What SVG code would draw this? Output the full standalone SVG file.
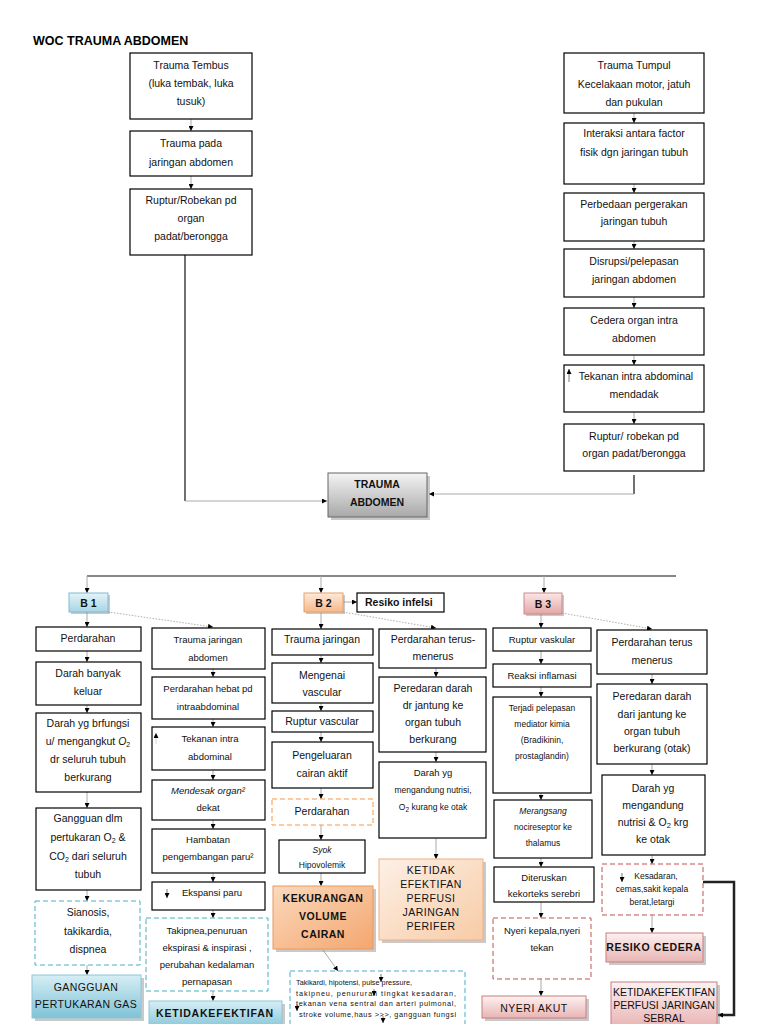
<svg xmlns="http://www.w3.org/2000/svg" width="768" height="1024" viewBox="0 0 768 1024">
<defs>
<marker id="ah" viewBox="0 0 6 6" refX="6" refY="3" markerWidth="5" markerHeight="5" orient="auto" markerUnits="userSpaceOnUse"><path d="M0,0 L6,3 L0,6 z" fill="#000"/></marker>
<linearGradient id="gGray" x1="0" y1="0" x2="0" y2="1"><stop offset="0" stop-color="#f4f4f4"/><stop offset="1" stop-color="#a8a8a8"/></linearGradient>
<linearGradient id="gBlue" x1="0" y1="0" x2="0" y2="1"><stop offset="0" stop-color="#e4f3f8"/><stop offset="1" stop-color="#a6d5e5"/></linearGradient>
<linearGradient id="gOr" x1="0" y1="0" x2="0" y2="1"><stop offset="0" stop-color="#fdeadb"/><stop offset="1" stop-color="#f6b888"/></linearGradient>
<linearGradient id="gPk" x1="0" y1="0" x2="0" y2="1"><stop offset="0" stop-color="#fbe6e6"/><stop offset="1" stop-color="#e4a7a7"/></linearGradient>
<linearGradient id="gTeal" x1="0" y1="0" x2="0" y2="1"><stop offset="0" stop-color="#d6eef5"/><stop offset="1" stop-color="#7fc2d6"/></linearGradient>
<linearGradient id="gKek" x1="0" y1="0" x2="1" y2="1"><stop offset="0" stop-color="#fbd9bc"/><stop offset="1" stop-color="#f4a66f"/></linearGradient>
<linearGradient id="gPer" x1="0" y1="0" x2="1" y2="1"><stop offset="0" stop-color="#fdf0e6"/><stop offset="1" stop-color="#f8cba6"/></linearGradient>
<linearGradient id="gPk2" x1="0" y1="0" x2="0" y2="1"><stop offset="0" stop-color="#fdf1f1"/><stop offset="1" stop-color="#e9b4b4"/></linearGradient>
</defs>
<style>
.bx{fill:#fff;stroke:#000;stroke-width:1.2}
.db{fill:#fff;stroke:#4bacc6;stroke-width:1;stroke-dasharray:5 3}
.do{fill:#fff;stroke:#f79646;stroke-width:1;stroke-dasharray:5 3}
.dp{fill:#fff;stroke:#c0504d;stroke-width:1;stroke-dasharray:5 3}
.sh{fill:#777;opacity:.4}
.t{font-family:"Liberation Sans",Arial,sans-serif;font-size:10.5px;text-anchor:middle;fill:#111}
.s{font-size:9.5px}
.xs{font-size:8.5px}
.b{font-weight:bold}
.c{stroke:#aaa;stroke-width:1;fill:none;marker-end:url(#ah)}
.k{stroke:#111;stroke-width:1.2;fill:none}
.dt{stroke:#999;stroke-width:0.8;stroke-dasharray:1.5 1.5;fill:none;marker-end:url(#ah)}
.ar{stroke:#555;stroke-width:0.8;fill:none;marker-end:url(#ah)}
</style>

<text x="33" y="45" font-family="Liberation Sans, Arial, sans-serif" font-size="12.5" font-weight="bold" fill="#000">WOC TRAUMA ABDOMEN</text>

<g id="connectors">
<line class="c" x1="191" y1="119" x2="191" y2="131"/>
<line class="c" x1="191" y1="176" x2="191" y2="189"/>
<line class="k" x1="185" y1="255" x2="185" y2="501"/>
<line class="c" x1="185" y1="501" x2="327" y2="501"/>
<line class="c" x1="634" y1="113" x2="634" y2="123"/>
<line class="c" x1="634" y1="184" x2="634" y2="193"/>
<line class="c" x1="634" y1="241" x2="634" y2="249"/>
<line class="c" x1="634" y1="297" x2="634" y2="308"/>
<line class="c" x1="634" y1="355" x2="634" y2="365"/>
<line class="c" x1="634" y1="412" x2="634" y2="424"/>
<line class="k" x1="634" y1="475" x2="634" y2="494"/>
<line class="c" x1="634" y1="494" x2="429" y2="494"/>
<line class="k" x1="87" y1="576" x2="676" y2="576"/>
<line class="c" x1="87" y1="576" x2="87" y2="593"/>
<line class="c" x1="321" y1="576" x2="321" y2="593"/>
<line class="c" x1="544" y1="576" x2="544" y2="593"/>
<line class="c" x1="343" y1="602" x2="357" y2="602"/>
<line class="dt" x1="108" y1="612" x2="213" y2="627"/>
<line class="dt" x1="343" y1="612" x2="436" y2="628"/>
<line class="dt" x1="562" y1="613" x2="652" y2="629"/>
<line class="c" x1="87" y1="612" x2="87" y2="627"/>
<line class="c" x1="87" y1="651" x2="87" y2="662"/>
<line class="c" x1="87" y1="705" x2="87" y2="713"/>
<line class="c" x1="87" y1="792" x2="87" y2="808"/>
<line class="c" x1="87" y1="890" x2="87" y2="901"/>
<line class="c" x1="87" y1="965" x2="87" y2="975"/>
<line class="c" x1="213" y1="669" x2="213" y2="677"/>
<line class="c" x1="213" y1="719" x2="213" y2="727"/>
<line class="c" x1="213" y1="770" x2="213" y2="780"/>
<line class="c" x1="213" y1="820" x2="213" y2="829"/>
<line class="c" x1="213" y1="873" x2="213" y2="882"/>
<line class="c" x1="213" y1="910" x2="213" y2="918"/>
<line class="c" x1="213" y1="991" x2="213" y2="1001"/>
<line class="c" x1="321" y1="613" x2="321" y2="629"/>
<line class="c" x1="321" y1="655" x2="321" y2="663"/>
<line class="c" x1="321" y1="703" x2="321" y2="711"/>
<line class="c" x1="321" y1="732" x2="321" y2="742"/>
<line class="c" x1="321" y1="788" x2="321" y2="799"/>
<line class="c" x1="321" y1="825" x2="321" y2="840"/>
<line class="c" x1="321" y1="873" x2="321" y2="886"/>
<line class="c" x1="323" y1="950" x2="338" y2="971"/>
<line class="c" x1="436" y1="668" x2="436" y2="677"/>
<line class="c" x1="436" y1="752" x2="436" y2="762"/>
<line class="c" x1="436" y1="838" x2="436" y2="859"/>
<line class="c" x1="541" y1="614" x2="541" y2="628"/>
<line class="c" x1="541" y1="651" x2="541" y2="664"/>
<line class="c" x1="541" y1="687" x2="541" y2="697"/>
<line class="c" x1="541" y1="793" x2="541" y2="800"/>
<line class="c" x1="541" y1="858" x2="541" y2="867"/>
<line class="c" x1="541" y1="902" x2="541" y2="918"/>
<line class="c" x1="541" y1="979" x2="541" y2="996"/>
<line class="c" x1="652" y1="674" x2="652" y2="684"/>
<line class="c" x1="652" y1="764" x2="652" y2="775"/>
<line class="c" x1="652" y1="855" x2="652" y2="864"/>
<line class="c" x1="652" y1="915" x2="652" y2="933"/>
<path d="M703,882 H734 V1015 H718" stroke="#222" stroke-width="2.5" fill="none" marker-end="url(#ah)"/>
</g>

<g id="n-tembus"><rect class="bx" x="130" y="53" width="122" height="66"/>
<text class="t" x="191" y="69">Trauma Tembus</text><text class="t" x="191" y="87">(luka tembak, luka</text><text class="t" x="191" y="105">tusuk)</text></g>
<g id="n-trauma-jaringan"><rect class="bx" x="130" y="131" width="122" height="45"/>
<text class="t" x="191" y="147">Trauma pada</text><text class="t" x="191" y="166">jaringan abdomen</text></g>
<g id="n-ruptur-kiri"><rect class="bx" x="130" y="189" width="122" height="66"/>
<text class="t" x="191" y="204">Ruptur/Robekan pd</text><text class="t" x="191" y="222">organ</text><text class="t" x="191" y="240">padat/berongga</text></g>

<g id="n-tumpul"><rect class="bx" x="564" y="53" width="140" height="60"/>
<text class="t" x="634" y="69">Trauma Tumpul</text><text class="t" x="634" y="88">Kecelakaan motor, jatuh</text><text class="t" x="634" y="106">dan pukulan</text></g>
<g id="n-interaksi"><rect class="bx" x="564" y="123" width="140" height="61"/>
<text class="t" x="634" y="137">Interaksi antara factor</text><text class="t" x="634" y="156">fisik dgn jaringan tubuh</text></g>
<g id="n-perbedaan"><rect class="bx" x="564" y="193" width="140" height="48"/>
<text class="t" x="634" y="208">Perbedaan pergerakan</text><text class="t" x="634" y="225">jaringan tubuh</text></g>
<g id="n-disrupsi"><rect class="bx" x="564" y="249" width="140" height="48"/>
<text class="t" x="634" y="265">Disrupsi/pelepasan</text><text class="t" x="634" y="283">jaringan abdomen</text></g>
<g id="n-cedera"><rect class="bx" x="564" y="308" width="140" height="47"/>
<text class="t" x="634" y="324">Cedera organ intra</text><text class="t" x="634" y="342">abdomen</text></g>
<g id="n-tekanan"><rect class="bx" x="564" y="365" width="140" height="47"/>
<line class="ar" x1="569" y1="382" x2="569" y2="369"/>
<text class="t" x="636" y="380">Tekanan intra abdominal</text><text class="t" x="634" y="398">mendadak</text></g>
<g id="n-ruptur-kanan"><rect class="bx" x="564" y="424" width="140" height="47"/>
<text class="t" x="634" y="440">Ruptur/ robekan pd</text><text class="t" x="634" y="457">organ padat/berongga</text></g>

<g id="n-trauma-abdomen"><rect class="sh" x="331" y="476" width="99" height="44"/><rect x="328" y="473" width="99" height="44" fill="url(#gGray)" stroke="#666" stroke-width="1"/>
<text class="t b" font-size="10" x="377" y="488">TRAUMA</text><text class="t b" font-size="10" x="377" y="506">ABDOMEN</text></g>

<g id="n-b1"><rect class="sh" x="71" y="595" width="39" height="19"/><rect x="69" y="593" width="39" height="19" fill="url(#gBlue)" stroke="#7fbcd2"/>
<text class="t b" font-size="10" x="88.5" y="606.5">B 1</text></g>
<g id="n-b2"><rect class="sh" x="306" y="595" width="39" height="19"/><rect x="304" y="593" width="39" height="19" fill="url(#gOr)" stroke="#e8a06a"/>
<text class="t b" font-size="10" x="323.5" y="606.5">B 2</text></g>
<g id="n-resiko-infeksi"><rect class="bx" x="357" y="593" width="87" height="19"/>
<text class="t b" font-size="7.5" x="365" y="605.5" style="text-anchor:start">Resiko infelsi</text></g>
<g id="n-b3"><rect class="sh" x="526" y="595" width="38" height="21"/><rect x="524" y="593" width="38" height="21" fill="url(#gPk)" stroke="#c98a8a"/>
<text class="t b" font-size="10" x="543" y="607.5">B 3</text></g>

<g id="n-b1-perdarahan"><rect class="bx" x="36" y="627" width="105" height="24"/><text class="t" x="88" y="642">Perdarahan</text></g>
<g id="n-b1-darah-banyak"><rect class="bx" x="36" y="662" width="105" height="43"/><text class="t" x="88" y="677">Darah banyak</text><text class="t" x="88" y="695">keluar</text></g>
<g id="n-b1-darah-yg"><rect class="bx" x="36" y="713" width="105" height="79"/>
<text class="t" x="88" y="727">Darah yg brfungsi</text>
<text class="t" x="88" y="745">u/ mengangkut <tspan font-style="italic">O</tspan><tspan font-size="7" dy="2">2</tspan></text>
<text class="t" x="88" y="763">dr seluruh tubuh</text><text class="t" x="88" y="781">berkurang</text></g>
<g id="n-b1-gangguan"><rect class="bx" x="36" y="808" width="105" height="82"/>
<text class="t" x="88" y="822">Gangguan dlm</text>
<text class="t" x="88" y="841">pertukaran O<tspan font-size="7" dy="2">2</tspan><tspan dy="-2"> &amp;</tspan></text>
<text class="t" x="88" y="860">CO<tspan font-size="7" dy="2">2</tspan><tspan dy="-2"> dari seluruh</tspan></text>
<text class="t" x="88" y="878">tubuh</text></g>
<g id="n-b1-sianosis"><rect class="db" x="35" y="901" width="105" height="64"/>
<text class="t" x="88" y="916">Sianosis,</text><text class="t" x="88" y="935">takikardia,</text><text class="t" x="88" y="953">dispnea</text></g>
<g id="n-gangguan-gas"><rect class="sh" x="35" y="978" width="109" height="43"/><rect x="32" y="975" width="109" height="43" fill="url(#gTeal)" stroke="#8ec6d8"/>
<text class="t" font-size="10" letter-spacing="0.4" x="86" y="991">GANGGUAN</text><text class="t" font-size="10" letter-spacing="0.4" x="86" y="1008">PERTUKARAN GAS</text></g>

<g id="n-b1-trauma-jar"><rect class="bx" x="152" y="628" width="113" height="41"/><text class="t s" x="208" y="643">Trauma jaringan</text><text class="t s" x="208" y="661">abdomen</text></g>
<g id="n-b1-perd-hebat"><rect class="bx" x="152" y="677" width="113" height="42"/><text class="t s" x="208" y="692">Perdarahan hebat pd</text><text class="t s" x="208" y="710">intraabdominal</text></g>
<g id="n-b1-tekanan"><rect class="bx" x="152" y="727" width="113" height="43"/>
<line stroke="#ccc" stroke-width="0.8" x1="156" y1="744" x2="156" y2="733" marker-end="url(#ah)"/>
<text class="t s" x="210" y="742">Tekanan intra</text><text class="t s" x="210" y="760">abdominal</text></g>
<g id="n-b1-mendesak"><rect class="bx" x="152" y="780" width="113" height="40"/><text class="t s" x="208" y="794" font-style="italic">Mendesak organ²</text><text class="t s" x="208" y="811">dekat</text></g>
<g id="n-b1-hambatan"><rect class="bx" x="152" y="829" width="113" height="44"/><text class="t s" x="208" y="843">Hambatan</text><text class="t s" x="208" y="860">pengembangan paru²</text></g>
<g id="n-b1-ekspansi"><rect class="bx" x="152" y="882" width="113" height="28"/>
<line class="ar" x1="167" y1="889" x2="167" y2="898"/>
<text class="t s" x="212" y="896">Ekspansi paru</text></g>
<g id="n-b1-takipnea"><rect class="db" x="146" y="918" width="122" height="73"/>
<text class="t s" x="207" y="934">Takipnea,penuruan</text><text class="t s" x="207" y="951">ekspirasi &amp; inspirasi ,</text><text class="t s" x="207" y="968">perubahan kedalaman</text><text class="t s" x="207" y="985">pernapasan</text></g>
<g id="n-ketidakefektifan-napas"><rect class="sh" x="152" y="1004" width="133" height="30"/><rect x="149" y="1001" width="133" height="30" fill="url(#gTeal)" stroke="#8ec6d8"/>
<text class="t b" font-size="10" letter-spacing="0.8" x="215" y="1017">KETIDAKEFEKTIFAN</text></g>

<g id="n-b2-trauma-jar"><rect class="bx" x="272" y="629" width="101" height="26"/><text class="t" x="322" y="643">Trauma jaringan</text></g>
<g id="n-b2-mengenai"><rect class="bx" x="272" y="663" width="101" height="40"/><text class="t" x="322" y="679">Mengenai</text><text class="t" x="322" y="696">vascular</text></g>
<g id="n-b2-ruptur"><rect class="bx" x="272" y="711" width="101" height="21"/><text class="t" x="322" y="725">Ruptur vascular</text></g>
<g id="n-b2-pengeluaran"><rect class="bx" x="272" y="742" width="101" height="46"/><text class="t" x="322" y="759">Pengeluaran</text><text class="t" x="322" y="777">cairan aktif</text></g>
<g id="n-b2-perdarahan"><rect class="do" x="272" y="799" width="101" height="26"/><text class="t" x="322" y="815">Perdarahan</text></g>
<g id="n-b2-syok"><rect class="bx" x="279" y="840" width="86" height="33"/><text class="t xs" x="322" y="853" font-style="italic">Syok</text><text class="t xs" x="322" y="868">Hipovolemik</text></g>
<g id="n-kekurangan"><rect class="sh" x="276" y="889" width="100" height="63"/><rect x="273" y="886" width="100" height="63" fill="url(#gKek)" stroke="#e89a60"/>
<text class="t b" letter-spacing="0.5" x="323" y="902">KEKURANGAN</text><text class="t b" letter-spacing="0.5" x="323" y="920">VOLUME</text><text class="t b" letter-spacing="0.5" x="323" y="938">CAIRAN</text></g>
<g id="n-takikardi"><rect class="db" x="290" y="971" width="175" height="60"/>
<g font-family="Liberation Sans, Arial, sans-serif" font-size="7.3" fill="#111">
<text x="296" y="985">Takikardi, hipotensi,   pulse pressure,</text>
<text x="296" y="995.5" textLength="160" lengthAdjust="spacing">takipneu, penururan  tingkat  kesadaran,</text>
<text x="296" y="1006" textLength="160" lengthAdjust="spacing">tekanan vena sentral dan arteri pulmonal,</text>
<text x="299" y="1016.5" textLength="157" lengthAdjust="spacing">stroke volume,haus &gt;&gt;&gt;, gangguan fungsi</text>
</g>
<line class="ar" x1="381" y1="974" x2="381" y2="982"/>
<line class="ar" x1="374" y1="989" x2="374" y2="996"/>
<line class="ar" x1="297" y1="1004" x2="297" y2="1011"/>
<line class="ar" x1="383" y1="1016" x2="383" y2="1023"/></g>

<g id="n-b2-perd-terus"><rect class="bx" x="379" y="629" width="107" height="39"/><text class="t" x="433" y="643">Perdarahan terus-</text><text class="t" x="433" y="660">menerus</text></g>
<g id="n-b2-peredaran"><rect class="bx" x="379" y="677" width="107" height="75"/><text class="t" x="433" y="692">Peredaran darah</text><text class="t" x="433" y="709">dr jantung ke</text><text class="t" x="433" y="726">organ tubuh</text><text class="t" x="433" y="743">berkurang</text></g>
<g id="n-b2-darah-yg"><rect class="bx" x="379" y="762" width="107" height="76"/><text class="t s" x="433" y="776">Darah yg</text><text class="t xs" x="433" y="793">mengandung nutrisi,</text><text class="t xs" x="433" y="810">O<tspan font-size="6.5" dy="2">2</tspan><tspan dy="-2"> kurang ke otak</tspan></text></g>
<g id="n-perfusi-perifer"><rect class="sh" x="382" y="862" width="104" height="81"/><rect x="379" y="859" width="104" height="81" fill="url(#gPer)" stroke="#f0b080"/>
<text class="t" letter-spacing="0.5" x="431" y="874">KETIDAK</text><text class="t" letter-spacing="0.5" x="431" y="888">EFEKTIFAN</text><text class="t" letter-spacing="0.5" x="431" y="902">PERFUSI</text><text class="t" letter-spacing="0.5" x="431" y="916">JARINGAN</text><text class="t" letter-spacing="0.5" x="431" y="930">PERIFER</text></g>

<g id="n-b3-ruptur"><rect class="bx" x="493" y="628" width="98" height="23"/><text class="t s" x="542" y="643">Ruptur vaskular</text></g>
<g id="n-b3-reaksi"><rect class="bx" x="493" y="664" width="98" height="23"/><text class="t s" x="542" y="679">Reaksi inflamasi</text></g>
<g id="n-b3-terjadi"><rect class="bx" x="493" y="697" width="98" height="96"/><text class="t xs" x="542" y="711">Terjadi pelepasan</text><text class="t xs" x="542" y="727">mediator kimia</text><text class="t xs" x="542" y="743">(Bradikinin,</text><text class="t xs" x="542" y="759">prostaglandin)</text></g>
<g id="n-b3-merangsang"><rect class="bx" x="494" y="800" width="98" height="58"/><text class="t xs" x="543" y="814" font-style="italic">Merangsang</text><text class="t xs" x="543" y="830">nocireseptor ke</text><text class="t xs" x="543" y="846">thalamus</text></g>
<g id="n-b3-diteruskan"><rect class="bx" x="494" y="867" width="100" height="35"/><text class="t s" x="544" y="881">Diteruskan</text><text class="t s" x="544" y="897">kekorteks serebri</text></g>
<g id="n-b3-nyeri"><rect class="dp" x="493" y="918" width="98" height="61"/><text class="t s" x="542" y="934">Nyeri kepala,nyeri</text><text class="t s" x="542" y="951">tekan</text></g>
<g id="n-nyeri-akut"><rect class="sh" x="485" y="999" width="104" height="22"/><rect x="482" y="996" width="104" height="22" fill="url(#gPk2)" stroke="#c97f7f"/>
<text class="t" letter-spacing="0.5" x="534" y="1012">NYERI AKUT</text></g>

<g id="n-b3-perd-terus"><rect class="bx" x="597" y="630" width="110" height="44"/><text class="t" x="652" y="646">Perdarahan terus</text><text class="t" x="652" y="664">menerus</text></g>
<g id="n-b3-peredaran"><rect class="bx" x="597" y="684" width="110" height="80"/><text class="t" x="652" y="700">Peredaran darah</text><text class="t" x="652" y="718">dari jantung ke</text><text class="t" x="652" y="735">organ tubuh</text><text class="t" x="652" y="752">berkurang (otak)</text></g>
<g id="n-b3-darah-yg"><rect class="bx" x="602" y="775" width="103" height="80"/><text class="t" x="653" y="792">Darah yg</text><text class="t" x="653" y="809">mengandung</text><text class="t" x="653" y="826">nutrisi &amp; O<tspan font-size="7.5" dy="2">2</tspan><tspan dy="-2"> krg</tspan></text><text class="t" x="653" y="843">ke otak</text></g>
<g id="n-b3-kesadaran"><rect class="dp" x="602" y="864" width="101" height="51"/>
<line class="ar" x1="622" y1="873" x2="622" y2="882"/>
<text class="t xs" x="656" y="879">Kesadaran,</text><text class="t xs" x="652" y="892">cemas,sakit kepala</text><text class="t xs" x="652" y="905">berat,letargi</text></g>
<g id="n-resiko-cedera"><rect class="sh" x="609" y="936" width="97" height="29"/><rect x="606" y="933" width="97" height="29" fill="url(#gPk2)" stroke="#c97f7f"/>
<text class="t b" letter-spacing="0.6" x="654" y="951">RESIKO CEDERA</text></g>
<g id="n-perfusi-sebral"><rect class="sh" x="614" y="985" width="106" height="45"/><rect x="611" y="982" width="106" height="45" fill="url(#gPk2)" stroke="#c97f7f"/>
<text class="t" font-size="8.8" x="664" y="996">KETIDAKEFEKTIFAN</text><text class="t" font-size="8.8" x="664" y="1009">PERFUSI JARINGAN</text><text class="t" font-size="8.8" x="664" y="1022">SEBRAL</text></g>
</svg>
